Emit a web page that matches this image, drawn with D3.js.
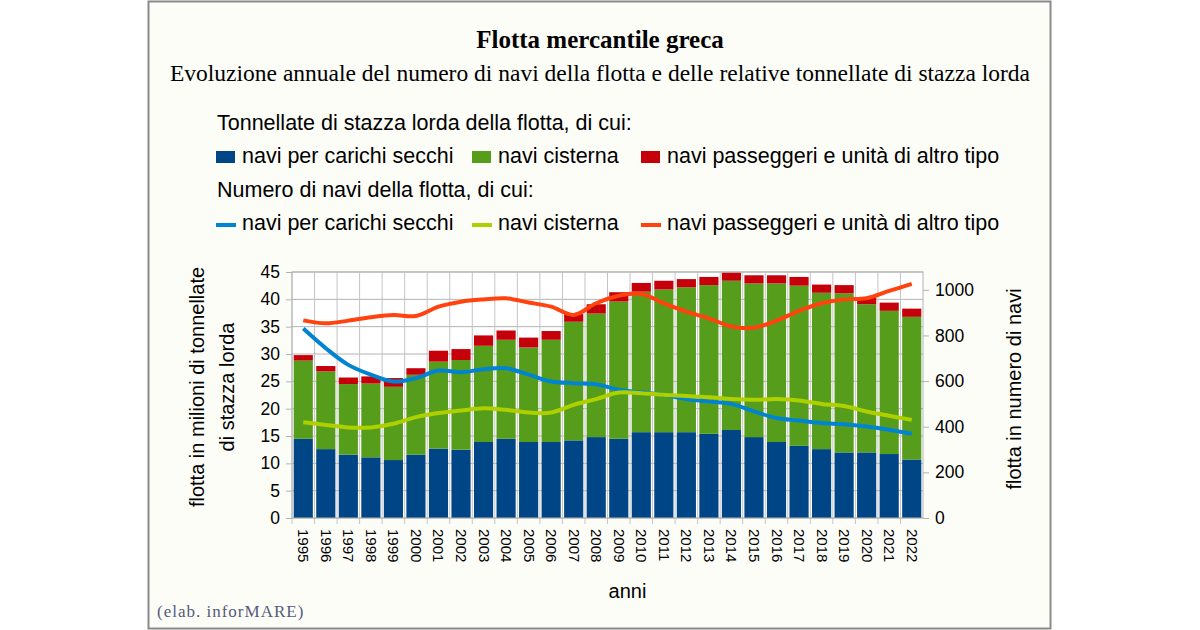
<!DOCTYPE html>
<html>
<head>
<meta charset="utf-8">
<script src="https://cdn.jsdelivr.net/npm/d3@7"></script>
<style>
  body { margin: 0; background: #ffffff; }
  svg text { font-family: "Liberation Sans", Arial, sans-serif; fill: #000; }
  .serif { font-family: "Liberation Serif", "Times New Roman", serif; }
</style>
</head>
<body>
<div id="chart"></div>
<script>
// Data
var years = ["1995","1996","1997","1998","1999","2000","2001","2002","2003","2004",
  "2005","2006","2007","2008","2009","2010","2011","2012","2013","2014",
  "2015","2016","2017","2018","2019","2020","2021","2022"];

// tonnellate di stazza lorda (milioni)
var gtSecchi = [14.5,12.6,11.6,11.1,10.6,11.6,12.7,12.5,13.9,14.5,
  13.9,13.9,14.2,14.8,14.5,15.7,15.7,15.7,15.4,16.1,
  14.8,13.9,13.2,12.6,12.0,12.0,11.7,10.7];
var gtCisterna = [14.3,14.2,12.9,13.5,13.4,14.6,15.9,16.4,17.6,18.1,
  17.3,18.7,21.7,22.6,25.1,25.7,26.1,26.5,27.2,27.3,
  28.1,29.0,29.3,28.6,29.1,27.1,26.2,26.1];
var gtAltro = [1.0,1.0,1.2,1.3,1.6,1.2,2.0,2.0,1.9,1.7,
  1.8,1.6,1.4,1.7,1.7,1.6,1.6,1.5,1.5,1.5,
  1.5,1.5,1.6,1.5,1.5,1.3,1.5,1.5];

// numero di navi
var nSecchi = [830,744,671,628,598,613,646,639,652,656,
  628,598,591,586,562,550,540,521,510,500,
  467,438,427,416,411,401,387,369];
var nCisterna = [420,408,397,397,413,442,460,471,481,474,
  462,462,496,521,550,547,540,535,529,521,
  518,521,515,500,491,467,448,430];
var nAltro = [866,853,865,880,890,885,926,948,958,963,
  944,926,890,941,974,982,941,904,875,839,
  834,865,908,941,958,963,995,1026];

var leftTicks = [0,5,10,15,20,25,30,35,40,45];
var rightTicks = [0,200,400,600,800,1000];

var barColors = ["#004586", "#579d1c", "#c5000b"];
var lineColors = ["#0084d1", "#aecf00", "#ff420e"];
var seriesNames = ["navi per carichi secchi", "navi cisterna", "navi passeggeri e unità di altro tipo"];

// Chart setup
var svgWidth = 1200;
var svgHeight = 630;
var margin = { top: 272, right: 277, bottom: 112, left: 292 };
var width = svgWidth - margin.left - margin.right;
var height = svgHeight - margin.top - margin.bottom;

var svg = d3.select("#chart").append("svg")
  .attr("width", svgWidth)
  .attr("height", svgHeight);

// frame
svg.append("rect")
  .attr("x", 148.5).attr("y", 1.5)
  .attr("width", 902).attr("height", 627)
  .attr("fill", "#fdfdf8")
  .attr("stroke", "#8a8a8a")
  .attr("stroke-width", 2);

// Titles
svg.append("text").attr("class", "serif")
  .attr("x", 600).attr("y", 48)
  .attr("text-anchor", "middle")
  .attr("font-size", "25px").attr("font-weight", "bold")
  .text("Flotta mercantile greca");

svg.append("text").attr("class", "serif")
  .attr("x", 600).attr("y", 81)
  .attr("text-anchor", "middle")
  .attr("font-size", "23.5px")
  .text("Evoluzione annuale del numero di navi della flotta e delle relative tonnellate di stazza lorda");

// Legend
var legend = svg.append("g");
legend.append("text").attr("x", 217).attr("y", 130).attr("font-size", "21.5px")
  .text("Tonnellate di stazza lorda della flotta, di cui:");
legend.append("text").attr("x", 217).attr("y", 197).attr("font-size", "21.5px")
  .text("Numero di navi della flotta, di cui:");

var legX = [216, 472, 641];
seriesNames.forEach(function(name, i) {
  legend.append("rect")
    .attr("x", legX[i]).attr("y", 151)
    .attr("width", 19).attr("height", 12)
    .attr("fill", barColors[i]);
  legend.append("text").attr("x", legX[i] + 26).attr("y", 163).attr("font-size", "21.5px").text(name);
  legend.append("rect")
    .attr("x", legX[i]).attr("y", 223)
    .attr("width", 20).attr("height", 4)
    .attr("fill", lineColors[i]);
  legend.append("text").attr("x", legX[i] + 26).attr("y", 230).attr("font-size", "21.5px").text(name);
});

var chartGroup = svg.append("g")
  .attr("transform", `translate(${margin.left}, ${margin.top})`);

// Scales
var xBand = d3.scaleBand().domain(years).range([0, width]).paddingInner(0.15).paddingOuter(0.075);
var yLeft = d3.scaleLinear().domain([0, 45]).range([height, 0]);
var yRight = d3.scaleLinear().domain([0, 1078]).range([height, 0]);

var step = xBand.step();

// plot background + grid
chartGroup.append("rect")
  .attr("width", width).attr("height", height)
  .attr("fill", "#ffffff");

chartGroup.selectAll(".hgrid")
  .data(leftTicks)
  .enter().append("line")
  .attr("x1", 0).attr("x2", width)
  .attr("y1", d => yLeft(d)).attr("y2", d => yLeft(d))
  .attr("stroke", "#b3b3b3").attr("stroke-width", 1);

chartGroup.selectAll(".vgrid")
  .data(years)
  .enter().append("line")
  .attr("x1", (d, i) => i * step).attr("x2", (d, i) => i * step)
  .attr("y1", 0).attr("y2", height + 6)
  .attr("stroke", "#c4c4c4").attr("stroke-width", 1);

// Stacked bars
var table = years.map(function(y, i) {
  return { year: y, secchi: gtSecchi[i], cisterna: gtCisterna[i], altro: gtAltro[i] };
});
var stack = d3.stack().keys(["secchi", "cisterna", "altro"]);
var layers = stack(table);

chartGroup.selectAll(".layer")
  .data(layers)
  .enter().append("g")
  .attr("fill", (d, i) => barColors[i])
  .selectAll("rect")
  .data(d => d)
  .enter().append("rect")
  .attr("x", d => xBand(d.data.year))
  .attr("width", xBand.bandwidth())
  .attr("y", d => yLeft(d[1]))
  .attr("height", d => yLeft(d[0]) - yLeft(d[1]));

// Lines
var lineGen = d3.line()
  .x((d, i) => xBand(years[i]) + xBand.bandwidth() / 2)
  .y(d => yRight(d))
  .curve(d3.curveCatmullRom);

[nSecchi, nCisterna, nAltro].forEach(function(series, i) {
  chartGroup.append("path")
    .datum(series)
    .attr("d", lineGen)
    .attr("fill", "none")
    .attr("stroke", lineColors[i])
    .attr("stroke-width", 4)
    .attr("stroke-linejoin", "round");
});

// plot border
chartGroup.append("rect")
  .attr("width", width).attr("height", height)
  .attr("fill", "none")
  .attr("stroke", "#b3b3b3").attr("stroke-width", 1);

// Axes
var leftAxis = d3.axisLeft(yLeft).tickValues(leftTicks).tickSize(6).tickPadding(6);
var rightAxis = d3.axisRight(yRight).tickValues(rightTicks).tickSize(6).tickPadding(6)
  .tickFormat(d3.format("d"));

var gl = chartGroup.append("g").call(leftAxis);
var gr = chartGroup.append("g").attr("transform", `translate(${width}, 0)`).call(rightAxis);
[gl, gr].forEach(function(g) {
  g.select(".domain").remove();
  g.selectAll("line").attr("stroke", "#b3b3b3");
  g.selectAll("text").attr("font-size", "17.5px").attr("fill", "#000")
    .attr("font-family", "Liberation Sans, Arial, sans-serif");
});

// x labels rotated
chartGroup.selectAll(".xlab")
  .data(years)
  .enter().append("text")
  .attr("transform", d => `translate(${xBand(d) + xBand.bandwidth() / 2 - 5}, ${height + 11}) rotate(90)`)
  .attr("font-size", "15px")
  .text(d => d);

// Axis labels
chartGroup.append("text")
  .attr("transform", "rotate(-90)")
  .attr("x", -(height / 2) + 8).attr("y", -88)
  .attr("text-anchor", "middle").attr("font-size", "20px")
  .text("flotta in milioni di tonnellate");
chartGroup.append("text")
  .attr("transform", "rotate(-90)")
  .attr("x", -(height / 2) + 8).attr("y", -58)
  .attr("text-anchor", "middle").attr("font-size", "20px")
  .text("di stazza lorda");
chartGroup.append("text")
  .attr("transform", "rotate(-90)")
  .attr("x", -(height / 2) + 6).attr("y", width + 98)
  .attr("text-anchor", "middle").attr("font-size", "20px")
  .text("flotta in numero di navi");

chartGroup.append("text")
  .attr("x", width / 2 + 20).attr("y", height + 80)
  .attr("text-anchor", "middle").attr("font-size", "20px")
  .text("anni");

svg.append("text").attr("class", "serif")
  .attr("x", 157).attr("y", 617)
  .attr("font-size", "17px")
  .attr("letter-spacing", "1px")
  .style("fill", "#555a7a")
  .text("(elab. inforMARE)");
</script>
</body>
</html>
